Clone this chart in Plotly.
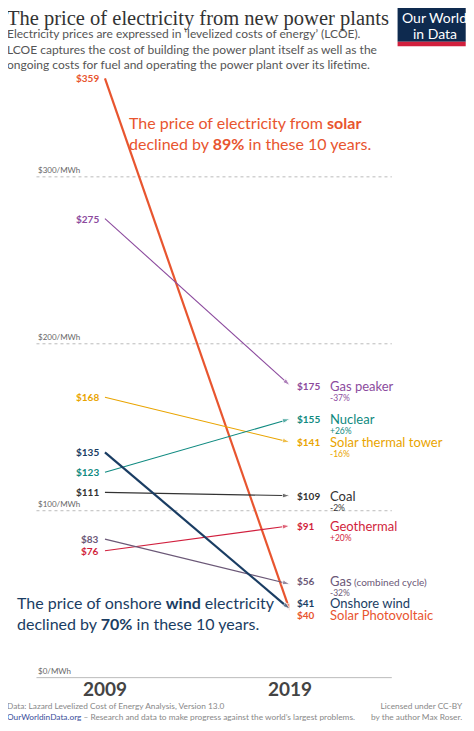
import plotly.graph_objects as go

years = [2009, 2019]
names = ["Solar Photovoltaic", "Gas peaker", "Solar thermal tower", "Nuclear",
         "Coal", "Geothermal", "Gas", "Onshore wind"]
v2009 = [359, 275, 168, 123, 111, 76, 83, 135]
v2019 = [40, 175, 141, 155, 109, 91, 56, 41]
changes = ["", "-37%", "-16%", "+26%", "-2%", "+20%", "-32%", ""]
colors = ["#e8552f", "#8c4b9e", "#e9a400", "#0f8a80", "#333333", "#d11f3d", "#6b5877", "#1a3d63"]
# small vertical nudges (px) so right-hand labels don't collide
right_shift = [-4, 0, 0, 0, 0, 0, 3, 6]

grid_vals = [0, 100, 200, 300]
grid_labels = ["$0/MWh", "$100/MWh", "$200/MWh", "$300/MWh"]

FONT = "Lato"
fig = go.Figure()

for g in grid_vals:
    fig.add_shape(type="line", x0=2005.3, x1=2024.5, y0=g, y1=g, layer="below",
                  line=dict(color="#bbbbbb", width=1, dash="solid" if g == 0 else "dot"))
for g, lab in zip(grid_vals, grid_labels):
    fig.add_annotation(x=2005.3, y=g, text=lab, showarrow=False, xanchor="left",
                       yanchor="bottom", font=dict(size=8, color="#666", family=FONT))

for i, n in enumerate(names):
    w = 2.2 if i in (0, 7) else 1.1
    fig.add_trace(go.Scatter(
        x=years, y=[v2009[i], v2019[i]], mode="lines+markers",
        line=dict(color=colors[i], width=w),
        marker=dict(symbol=["circle", "arrow"], angleref="previous",
                    size=[5, 8], color=colors[i]),
        showlegend=False, hoverinfo="skip"))
    fig.add_annotation(x=2009, y=v2009[i], text=f"<b>${v2009[i]}</b>", showarrow=False,
                       xanchor="right", xshift=-4,
                       font=dict(size=10, color=colors[i], family=FONT))
    fig.add_annotation(x=2019, y=v2019[i], text=f"<b>${v2019[i]}</b>", showarrow=False,
                       xanchor="left", xshift=5, yshift=right_shift[i],
                       font=dict(size=10, color=colors[i], family=FONT))
    label = n + ("<span style='font-size:10px'> (combined cycle)</span>" if n == "Gas" else "")
    fig.add_annotation(x=2019, y=v2019[i], text=label, showarrow=False,
                       xanchor="left", xshift=38, yshift=right_shift[i],
                       font=dict(size=13, color=colors[i], family=FONT))
    if changes[i]:
        fig.add_annotation(x=2019, y=v2019[i], text=changes[i], showarrow=False,
                           xanchor="left", yanchor="top", xshift=38, yshift=-5 + right_shift[i],
                           font=dict(size=8.5, color=colors[i], family=FONT))

fig.add_annotation(x=2010.2, y=326, xanchor="left", showarrow=False, align="left",
                   text="The price of electricity from <b>solar</b><br>declined by <b>89%</b> in these 10 years.",
                   font=dict(size=16, color="#e8552f", family=FONT))
fig.add_annotation(xref="paper", x=-0.012, y=39, xanchor="left", showarrow=False, align="left",
                   text="The price of onshore <b>wind</b> electricity<br>declined by <b>70%</b> in these 10 years.",
                   font=dict(size=16, color="#1a3d63", family=FONT))

for yr in years:
    fig.add_annotation(x=yr, y=0, yshift=-11, text=f"<b>{yr}</b>", showarrow=False,
                       font=dict(size=19, color="#444", family=FONT))

fig.add_annotation(xref="paper", yref="paper", x=-0.035, y=1.0885, xanchor="left", yanchor="top",
                   showarrow=False, text="The price of electricity from new power plants",
                   font=dict(size=20.5, color="#333", family="Liberation Serif"))
fig.add_annotation(xref="paper", yref="paper", x=-0.035, y=1.058, xanchor="left", yanchor="top",
                   showarrow=False, align="left",
                   text="Electricity prices are expressed in ‘levelized costs of energy’ (LCOE).<br>"
                        "LCOE captures the cost of building the power plant itself as well as the<br>"
                        "ongoing costs for fuel and operating the power plant over its lifetime.",
                   font=dict(size=12, color="#555", family=FONT))
fig.add_shape(type="rect", xref="paper", yref="paper", x0=0.87, x1=1.027, y0=1.029, y1=1.083,
              fillcolor="#0e2a4f", line_width=0)
fig.add_shape(type="rect", xref="paper", yref="paper", x0=0.87, x1=1.027, y0=1.022, y1=1.029,
              fillcolor="#d11f3d", line_width=0)
fig.add_annotation(xref="paper", yref="paper", x=0.875, y=1.068, xanchor="left", yanchor="middle",
                   showarrow=False, text="Our World", font=dict(size=14, color="white", family=FONT))
fig.add_annotation(xref="paper", yref="paper", x=0.9, y=1.043, xanchor="left", yanchor="middle",
                   showarrow=False, text="in Data", font=dict(size=14, color="white", family=FONT))
fig.add_annotation(xref="paper", yref="paper", x=-0.035, y=-0.02, xanchor="left", yanchor="top",
                   showarrow=False, align="left",
                   text="Data: Lazard Levelized Cost of Energy Analysis, Version 13.0<br>"
                        "<span style='color:#3a4d9a'>OurWorldinData.org</span> – Research and data to make progress against the world’s largest problems.",
                   font=dict(size=8.3, color="#888", family=FONT))
fig.add_annotation(xref="paper", yref="paper", x=1.025, y=-0.02, xanchor="right", yanchor="top",
                   showarrow=False, align="right",
                   text="Licensed under CC-BY<br>by the author Max Roser.",
                   font=dict(size=8.3, color="#888", family=FONT))

fig.update_layout(
    width=458, height=715, plot_bgcolor="white", paper_bgcolor="white",
    margin=dict(l=12, r=12, t=52, b=37),
    xaxis=dict(range=[2004.41, 2027.86], visible=False),
    yaxis=dict(range=[-5, 370], visible=False),
)
fig.write_html("out.html")
